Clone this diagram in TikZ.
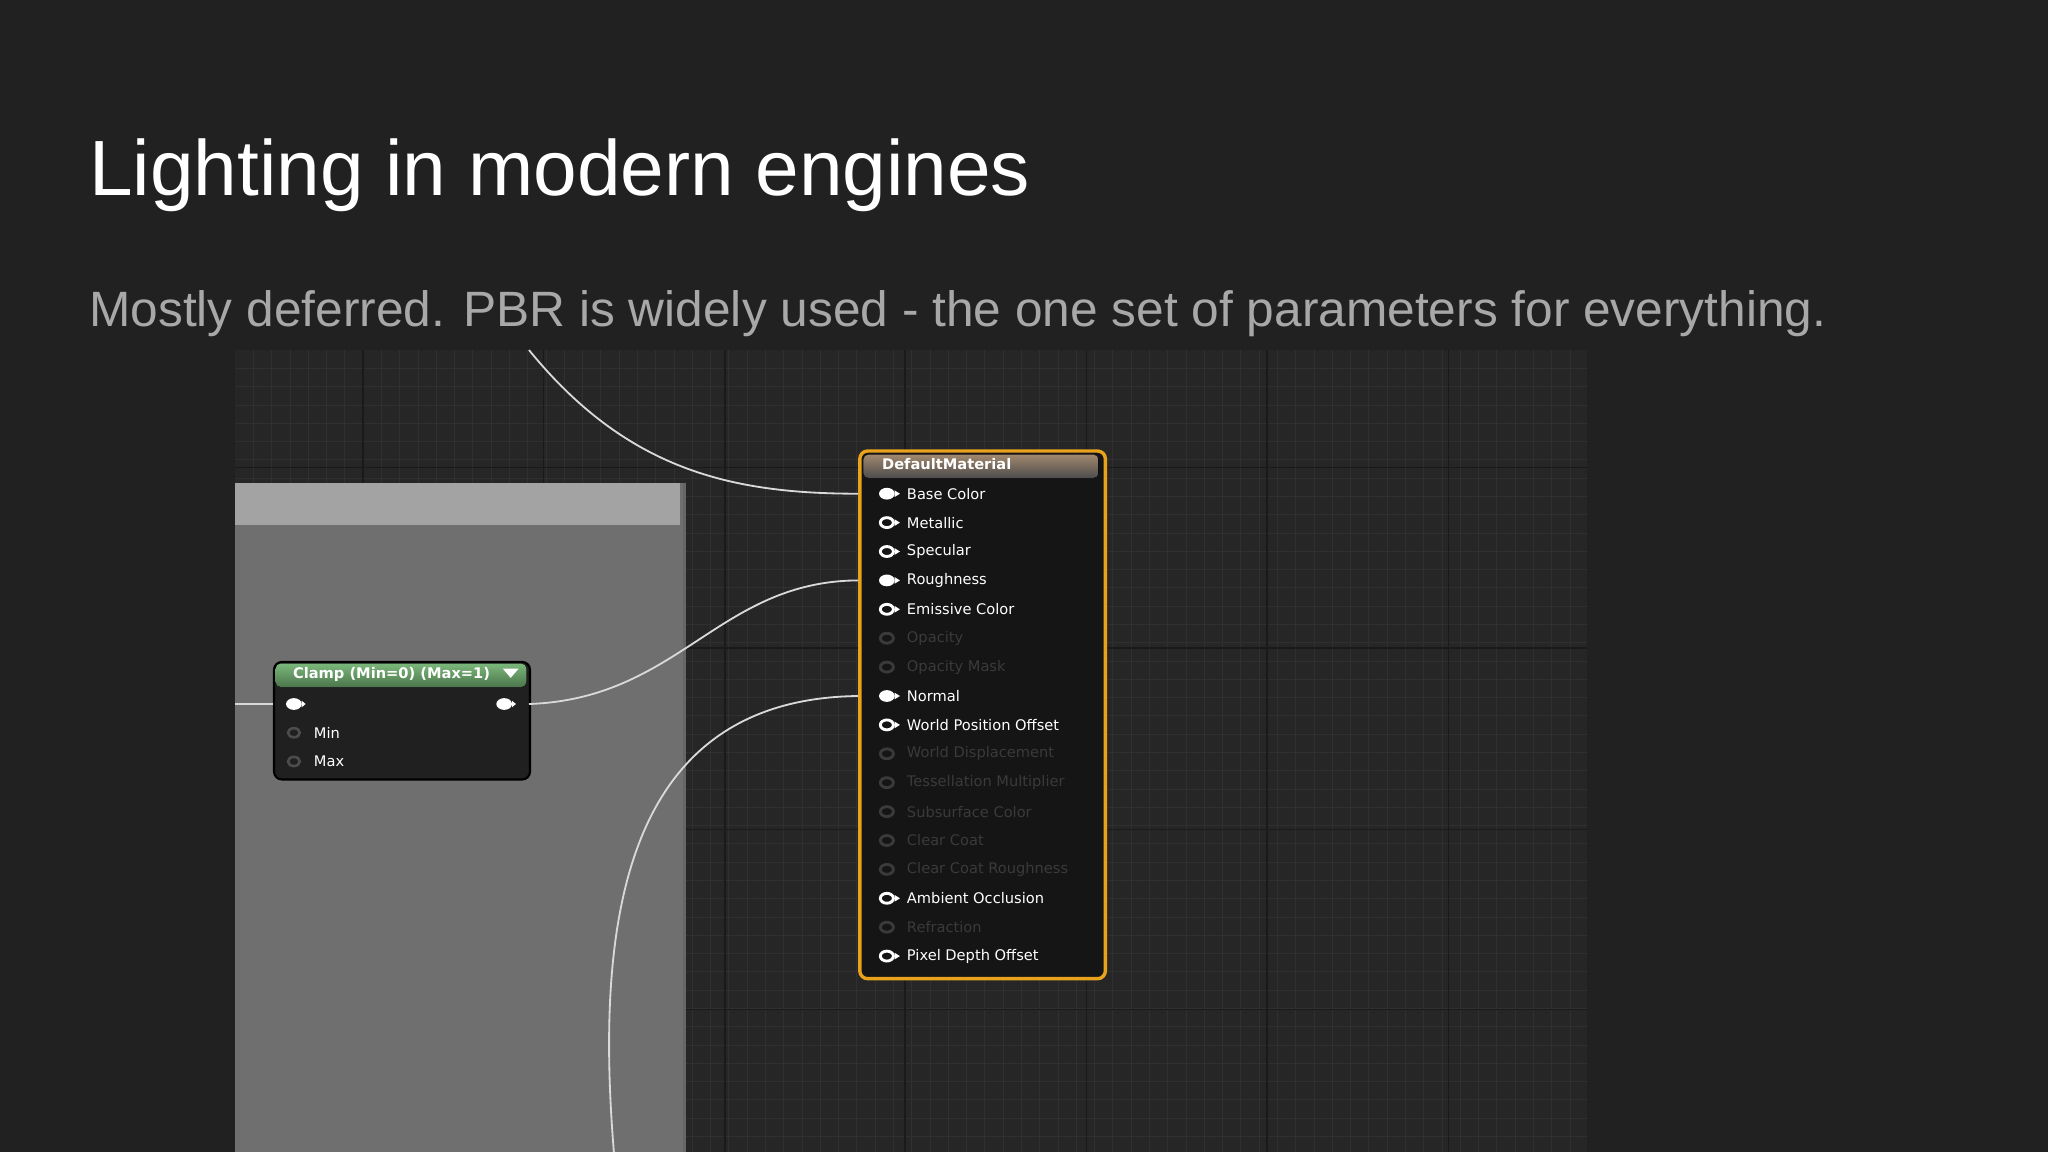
\documentclass[tikz,border=0pt]{standalone}
\usepackage{fontspec}
\setmainfont{Liberation Sans}
\newfontfamily\ue{DejaVu Sans}
\definecolor{bg}{HTML}{212121}
\definecolor{gridbg}{HTML}{262626}
\definecolor{gridln}{HTML}{303030}
\definecolor{gridmaj}{HTML}{1A1A1A}
\definecolor{panel}{HTML}{6F6F6F}
\definecolor{panelhd}{HTML}{A3A3A3}
\definecolor{sub}{HTML}{A8A8A8}
\definecolor{nodebg}{HTML}{151515}
\definecolor{orng}{HTML}{E8A21C}
\definecolor{dimtx}{HTML}{3A3A3A}
\begin{document}
\begin{tikzpicture}[x=0.5pt,y=-0.5pt,
  lbl/.style={font=\ue\fontsize{5.6}{6}\selectfont,text=white,anchor=west,inner sep=0},
  dlbl/.style={lbl,text=dimtx},
  wire/.style={draw=white!85!black,line width=0.7pt}]
\fill[bg] (0,0) rectangle (1568,882);
\useasboundingbox (0,0) rectangle (1568,882);
% grid
\fill[gridbg] (180,268) rectangle (1215,882);
\foreach \x in {194,208,...,1215} \draw[gridln,line width=0.3pt] (\x,268) -- (\x,882);
\foreach \y in {282,296,...,882} \draw[gridln,line width=0.3pt] (180,\y) -- (1215,\y);
\foreach \x in {278,416,555,693,832,970,1109} \draw[gridmaj,line width=0.6pt] (\x,268) -- (\x,882);
\foreach \y in {358,496,635,773} \draw[gridmaj,line width=0.6pt] (180,\y) -- (1215,\y);
% panel
\fill[panel] (180,370) rectangle (523,882);
\fill[panelhd] (180,370) rectangle (521,402);
\draw[black!60,line width=1pt] (524,370) -- (524,882);
% titles
\node[anchor=base west,inner sep=0,text=white,font=\fontsize{30}{30}\selectfont] (title) at (68,150) {Lighting in modern engines};
\node[anchor=base west,inner sep=0,text=sub,font=\fontsize{19}{19}\selectfont] (subt) at (68,250) {Mostly deferred. PBR is widely used - the one set of parameters for everything.};
% material node
\node[draw=orng,line width=1.3pt,rounded corners=3pt,fill=nodebg,minimum width=94pt,minimum height=202pt,anchor=north west,inner sep=0] (mat) at (657,344) {};
\fill[top color=black!45!white!60!brown,bottom color=black!70,rounded corners=2pt] (661,348) rectangle (841,366);
\node[lbl,font=\ue\bfseries\fontsize{5.6}{6}\selectfont,text=white!90] (mtitle) at (675,355) {DefaultMaterial};
\foreach \t/\on/\i/\f in {Base Color/1/0/1,Metallic/1/1/0,Specular/1/2/0,Roughness/1/3/1,Emissive Color/1/4/0,Opacity/0/5/0,Opacity Mask/0/6/0,Normal/1/7/1,World Position Offset/1/8/0,World Displacement/0/9/0,Tessellation Multiplier/0/10/0,Subsurface Color/0/11/0,Clear Coat/0/12/0,Clear Coat Roughness/0/13/0,Ambient Occlusion/1/14/0,Refraction/0/15/0,Pixel Depth Offset/1/16/0}{
  \pgfmathsetmacro\yy{378+22.125*\i}
  \ifnum\on=1
    \ifnum\f=1 \fill[white] (679,\yy) ellipse (6 and 4.5);
    \else \draw[white,line width=1.1pt] (679,\yy) ellipse (5 and 3.8); \fi
    \fill[white] (685,\yy-2.5) -- (689,\yy) -- (685,\yy+2.5) -- cycle;
    \node[lbl] (p\i) at (694,\yy) {\t};
  \else
    \draw[dimtx,line width=1.1pt] (679,\yy) ellipse (5 and 3.8);
    \node[dlbl] (p\i) at (694,\yy) {\t};
  \fi
  \coordinate (in\i) at (657,\yy);
}
% clamp node
\node[draw=black,line width=0.8pt,rounded corners=3pt,fill=nodebg!90!gray,minimum width=98pt,minimum height=45pt,anchor=north west,inner sep=0] (cl) at (209,506) {};
\fill[top color=green!30!gray!80,bottom color=black!60!green!40!gray,rounded corners=2pt] (211,508) rectangle (403,526);
\node[lbl,font=\ue\bfseries\fontsize{5.6}{6}\selectfont,text=white!90] (ctitle) at (224,516) {Clamp (Min=0) (Max=1)};
\fill[white!85] (385,512) -- (397,512) -- (391,519) -- cycle;
\fill[white] (225,539) ellipse (6 and 4.5); \fill[white] (231,536.5) -- (234,539) -- (231,541.5) -- cycle;
\fill[white] (386,539) ellipse (6 and 4.5); \fill[white] (392,536.5) -- (395,539) -- (392,541.5) -- cycle;
\draw[black!70,line width=1pt] (225,561) ellipse (4.5 and 3.5);
\draw[black!70,line width=1pt] (225,583) ellipse (4.5 and 3.5);
\node[lbl] (cmin) at (240,561) {Min};
\node[lbl] (cmax) at (240,583) {Max};
\coordinate (cin) at (209,539);
\coordinate (cout) at (405,539);
\coordinate (lft) at (180,539);
\coordinate (topw) at (405,268);
\coordinate (botw) at (470,882);
% wires
\draw[wire] (lft) -- (cin);
\draw[wire] (topw) .. controls (480,360) and (560,378) .. (in0);
\draw[wire] (cout) .. controls (520,535) and (550,445) .. (in3);
\draw[wire] (botw) .. controls (455,700) and (480,535) .. (in7);
\end{tikzpicture}
\end{document}
